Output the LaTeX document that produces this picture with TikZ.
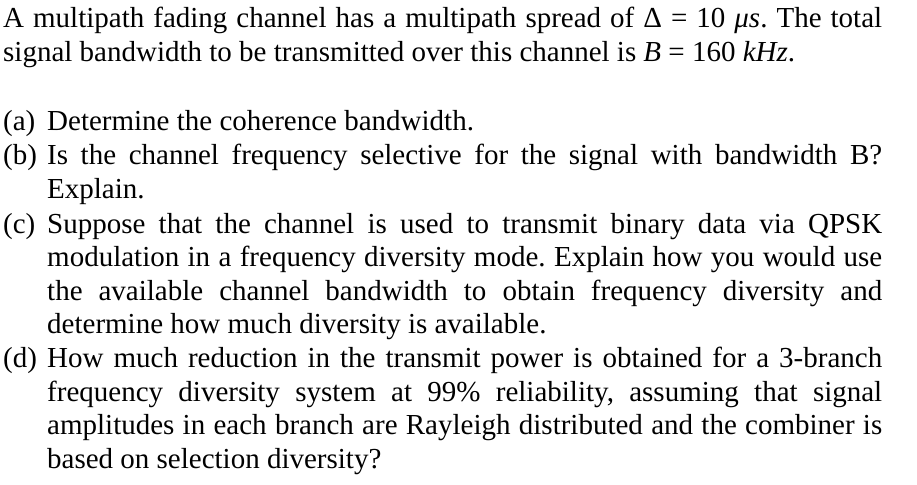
\documentclass[tikz,border=0pt]{standalone}
\usepackage{fontspec}
\setmainfont{Liberation Serif}
\tikzset{txt/.style={anchor=north west,inner sep=0pt,text width=879pt,align=justify,font=\fontsize{29}{33.6}\selectfont}}
\newcommand{\itm}[2]{\par\hangindent=44pt\hangafter=1\noindent\makebox[44pt][l]{#1}#2}
\begin{document}
\begin{tikzpicture}[x=1pt,y=-1pt]
\useasboundingbox (0,0) rectangle (917,484);
\node[txt] (t) at (3,7) {\frenchspacing
\noindent A multipath fading channel has a multipath spread of Δ = 10 \textit{μs}. The total\linebreak signal bandwidth to be transmitted over this channel is \textit{B} = 160 \textit{kHz}.\par
\vspace{36pt}
\itm{(a)}{Determine the coherence bandwidth.}
\itm{(b)}{Is the channel frequency selective for the signal with bandwidth B?\linebreak Explain.}\par\vspace{1.5pt}
\itm{(c)}{Suppose that the channel is used to transmit binary data via QPSK\linebreak modulation in a frequency diversity mode. Explain how you would use\linebreak the available channel bandwidth to obtain frequency diversity and\linebreak determine how much diversity is available.}
\itm{(d)}{How much reduction in the transmit power is obtained for a 3-branch\linebreak frequency diversity system at 99\% reliability, assuming that signal\linebreak amplitudes in each branch are Rayleigh distributed and the combiner is\linebreak based on selection diversity?}\par};
\end{tikzpicture}
\end{document}
